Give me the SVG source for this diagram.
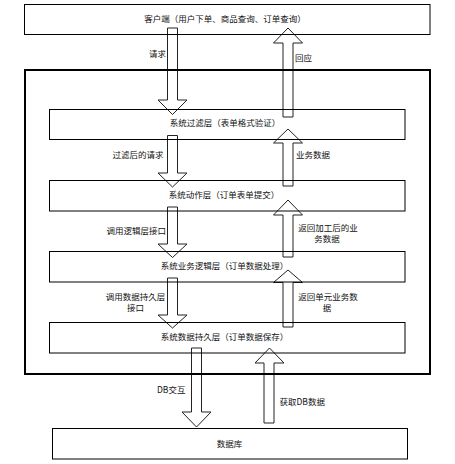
<svg xmlns="http://www.w3.org/2000/svg" width="455" height="464" viewBox="0 0 455 464">
<style>
  .bg{fill:#ffffff}
  .box{fill:none;stroke:#000;stroke-width:1}
  .frame{fill:none;stroke:#000;stroke-width:2}
  .arr{fill:#ffffff;stroke:#222;stroke-width:1;stroke-linejoin:miter}
  text{font-family:"Noto Sans CJK SC","Liberation Sans",sans-serif;font-size:8.5px;fill:#111}
  .c{text-anchor:middle}
  .e{text-anchor:end}
</style>
<rect class="bg" x="0" y="0" width="455" height="464"/>
<g id="connectors">
  <polygon class="arr" points="167.5,28 177.5,28 177.5,100 187,100 172.5,114.5 158,100 167.5,100"/>
  <polygon class="arr" points="167.5,135.5 177.5,135.5 177.5,173 187,173 172.5,187 158,173 167.5,173"/>
  <polygon class="arr" points="167.5,207 177.5,207 177.5,244 187,244 172.5,257.5 158,244 167.5,244"/>
  <polygon class="arr" points="167.5,278 177.5,278 177.5,315 187,315 172.5,328 158,315 167.5,315"/>
  <polygon class="arr" points="191.5,348 201.5,348 201.5,412 211,412 196.5,427 182,412 191.5,412"/>
  <polygon class="arr" points="283,117 293,117 293,43 302.5,43 288,28 273.5,43 283,43"/>
  <polygon class="arr" points="283,186 293,186 293,143 302.5,143 288,129 273.5,143 283,143"/>
  <polygon class="arr" points="283,257 293,257 293,215 302.5,215 288,200 273.5,215 283,215"/>
  <polygon class="arr" points="283,327 293,327 293,282.5 302.5,282.5 288,270 273.5,282.5 283,282.5"/>
  <polygon class="arr" points="264,423 274,423 274,363 284,363 269.5,348 255,363 264,363"/>
  <text class="e" x="166" y="57">请求</text>
  <text x="295" y="61">回应</text>
  <text class="e" x="163.5" y="158">过滤后的请求</text>
  <text x="296" y="158">业务数据</text>
  <text class="e" x="166" y="234">调用逻辑层接口</text>
  <text class="c" x="328" y="230.5">返回加工后的业</text>
  <text class="c" x="327" y="241.5">务数据</text>
  <text class="c" x="135.5" y="299.5">调用数据持久层</text>
  <text class="c" x="135.5" y="310.5">接口</text>
  <text class="c" x="328" y="299.5">返回单元业务数</text>
  <text class="c" x="327" y="310.5">据</text>
  <text x="157" y="392.5">DB交互</text>
  <text x="279.5" y="404.5">获取DB数据</text>
</g>
<g id="client">
  <rect class="box" x="24.5" y="4.5" width="405.5" height="30"/>
  <text class="c" x="225" y="22">客户端（用户下单、商品查询、订单查询）</text>
</g>
<g id="system-frame">
  <rect class="frame" x="25" y="70" width="405" height="304"/>
</g>
<g id="filter-layer">
  <rect class="box" x="49.5" y="109.5" width="355.5" height="30"/>
  <text class="c" x="225" y="126">系统过滤层（表单格式验证）</text>
</g>
<g id="action-layer">
  <rect class="box" x="49.5" y="180.5" width="355.5" height="30.5"/>
  <text class="c" x="224" y="197.5">系统动作层（订单表单提交）</text>
</g>
<g id="logic-layer">
  <rect class="box" x="49.5" y="251.5" width="355.5" height="30.5"/>
  <text class="c" x="224.5" y="268.5">系统业务逻辑层（订单数据处理）</text>
</g>
<g id="persistence-layer">
  <rect class="box" x="49.5" y="322.5" width="355.5" height="30.5"/>
  <text class="c" x="224.5" y="339.5">系统数据持久层（订单数据保存）</text>
</g>
<g id="database">
  <rect class="box" x="52.5" y="428.5" width="355" height="30.5"/>
  <text class="c" x="229.5" y="447">数据库</text>
</g>
</svg>
